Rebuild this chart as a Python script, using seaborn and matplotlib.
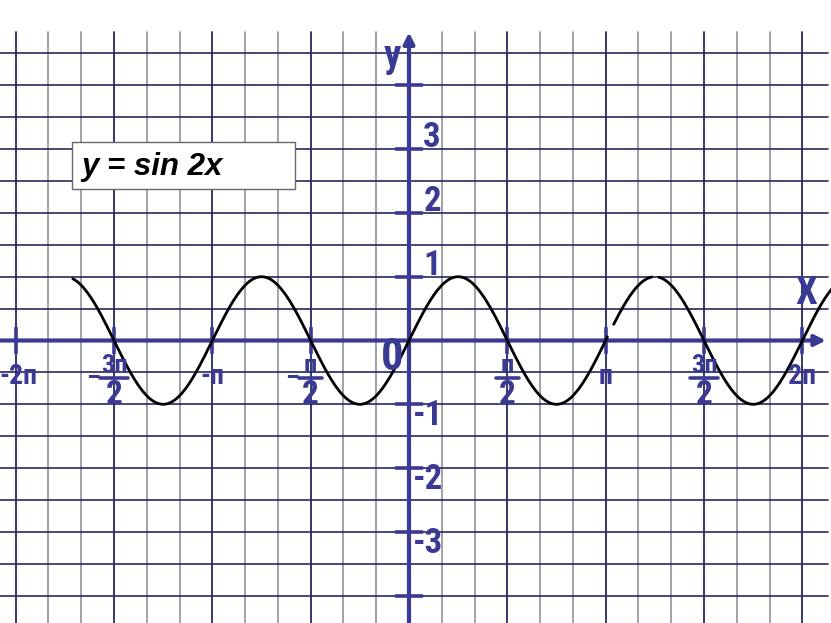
import numpy as np
import pandas as pd
import matplotlib
matplotlib.use("Agg")
import matplotlib.pyplot as plt
import seaborn as sns
from matplotlib import font_manager
from matplotlib.patches import Rectangle

# ---------------- data ----------------
formula_label = "y = sin 2x"
curve_seg_start = [-5.37, 3.27, 3.99]     # hand-drawn curve pieces (x in radians)
curve_seg_end = [3.17, 3.88, 6.80]
x_tick_mult = [-4, -3, -2, -1, 1, 2, 3, 4]            # multiples of pi/2
x_tick_num = ["-2п", "3п", "-п", "п", "п", "п", "3п", "2п"]
x_tick_den = [None, "2", None, "2", "2", None, "2", None]
x_tick_minus = [False, True, False, True, False, False, False, False]
y_tick_vals = [4, 3, 2, 1, -1, -2, -3, -4]
y_tick_labels = ["", "3", "2", "1", "-1", "-2", "-3", ""]
origin_label = "0"
x_axis_label = "X"
y_axis_label = "y"

# ---------------- style ----------------
sns.set_style("white")
fonts = font_manager.fontManager.ttflist
names = {f.name for f in fonts}
stretch = "normal"
if "Liberation Sans Narrow" in names:
    narrow = "Liberation Sans Narrow"
elif "Roboto Condensed" in names:
    narrow = "Roboto Condensed"
elif any(f.name == "DejaVu Sans" and f.stretch == "condensed" for f in fonts):
    narrow = "DejaVu Sans"
    stretch = "condensed"
else:
    narrow = "DejaVu Sans"
plt.rcParams["font.family"] = [narrow, "DejaVu Sans"]

AX_COL = "#3a3994"
GRID_DARK = "#28285e"
GRID_GRAY = "#9a9aa4"

fig = plt.figure(figsize=(8.31, 6.23), dpi=100)
ax = fig.add_axes([0, 0, 1, 1])
x0, x1 = -409 / 62.6, 422 / 62.6
y0, y1 = (340.5 - 623) / 63.8, 340.5 / 63.8

# curve
frames = []
for i, (s, e) in enumerate(zip(curve_seg_start, curve_seg_end)):
    xs = np.linspace(s, e, 300)
    frames.append(pd.DataFrame({"x": xs, "y": np.sin(2 * xs), "seg": i}))
df = pd.concat(frames, ignore_index=True)
sns.lineplot(data=df, x="x", y="y", units="seg", estimator=None, sort=False,
             color="black", lw=2.0, ax=ax, zorder=5)
ax.set_xlim(x0, x1)
ax.set_ylim(y0, y1)
ax.axis("off")

# grid
grid_top = 4.835
for k in range(-12, 13):
    if k == 0:
        continue
    xv = k * np.pi / 6
    col = GRID_DARK if k % 3 == 0 else GRID_GRAY
    ax.plot([xv, xv], [y0, grid_top], color=col, lw=1.3, zorder=1)
for j in range(-8, 10):
    if j == 0:
        continue
    ax.plot([x0, 6.69], [j * 0.5, j * 0.5], color=GRID_DARK, lw=1.2, zorder=1)

# axes with arrows
ax.annotate("", xy=(6.66, 0), xytext=(x0, 0),
            arrowprops=dict(arrowstyle="-|>", lw=3, color=AX_COL, mutation_scale=16,
                            shrinkA=0, shrinkB=0), zorder=3)
ax.annotate("", xy=(0, 4.83), xytext=(0, y0),
            arrowprops=dict(arrowstyle="-|>", lw=3, color=AX_COL, mutation_scale=16,
                            shrinkA=0, shrinkB=0), zorder=3)

# ticks
for m in x_tick_mult:
    xv = m * np.pi / 2
    ax.plot([xv, xv], [-0.19, 0.19], color=AX_COL, lw=2.6, zorder=3)
for v in y_tick_vals:
    ax.plot([-0.21, 0.21], [v, v], color=AX_COL, lw=2.6, zorder=3)

# x tick labels
lab_kw = dict(color=AX_COL, fontweight="bold", fontstretch=stretch,
              ha="center", va="center", zorder=6)
for m, num, den, minus in zip(x_tick_mult, x_tick_num, x_tick_den, x_tick_minus):
    xv = m * np.pi / 2
    if den is None:
        ax.text(xv + (0.05 if m == -4 else 0), -0.56, num, fontsize=20, **lab_kw)
    else:
        ax.text(xv, -0.40, num, fontsize=19, **lab_kw)
        half = 0.22 if len(num) > 1 else 0.18
        ax.plot([xv - half, xv + half], [-0.59, -0.59], color=AX_COL, lw=2.6, zorder=6)
        ax.text(xv, -0.86, den, fontsize=24, **lab_kw)
        if minus:
            ax.text(xv - half - 0.12, -0.60, "–", fontsize=18, **lab_kw)

# y tick labels
for v, lab in zip(y_tick_vals, y_tick_labels):
    if not lab:
        continue
    if v > 0:
        ax.text(0.37, v + 0.18, lab, fontsize=25, **lab_kw)
    else:
        ax.text(0.31, v - 0.18, lab, fontsize=25, **lab_kw)

ax.text(-0.27, -0.27, origin_label, fontsize=32, **lab_kw)
ax.text(6.35, 0.74, x_axis_label, fontsize=28, **lab_kw)
ax.text(-0.27, 4.45, y_axis_label, fontsize=28, **lab_kw)

# formula box
ax.add_patch(Rectangle((-5.38, 2.37), 3.56, 0.74, facecolor="white",
                       edgecolor="#666666", lw=1.0, zorder=7))
ax.text(-5.23, 2.72, formula_label, fontsize=22.5, fontweight="bold", fontstyle="italic",
        family=["Liberation Sans", "DejaVu Sans"], color="black", ha="left", va="center",
        zorder=8)

fig.savefig("out.png", dpi=100)
